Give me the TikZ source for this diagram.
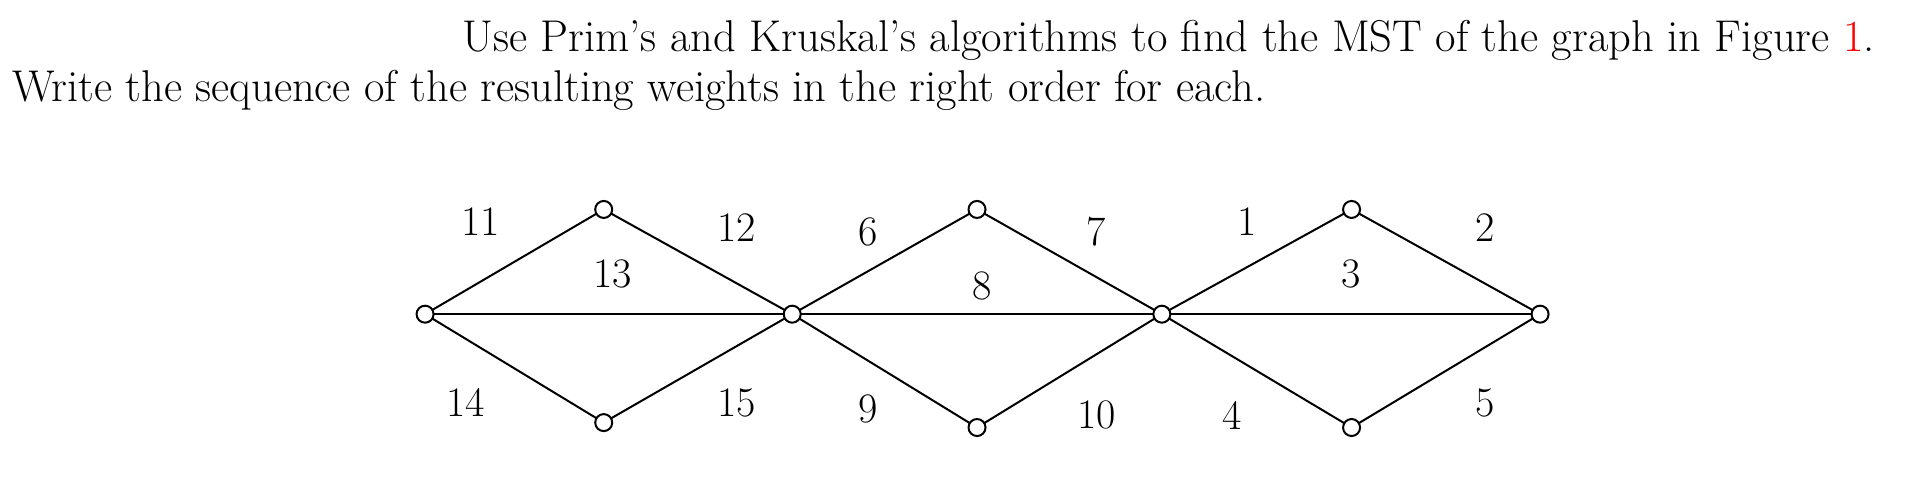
\documentclass[tikz,border=0pt]{standalone}
\usepackage{xcolor}
\begin{document}
\begin{tikzpicture}[x=1.232pt,y=-1.232pt,
  vtx/.style={circle,draw,line width=2pt,fill=white,inner sep=0pt,minimum size=17pt},
  edge/.style={line width=2pt},
  wt/.style={font=\fontsize{42}{46}\selectfont,inner sep=0pt},
  txt/.style={font=\fontsize{44.5}{48}\selectfont,inner sep=0pt,anchor=base west}]
\useasboundingbox (0,0) rectangle (1560,407);
\node[txt] (l1) at (375,42) {Use Prim's and Kruskal's algorithms to find the MST of the graph in Figure \textcolor{red}{1}.};
\node[txt] (l2) at (10,82) {Write the sequence of the resulting weights in the right order for each.};
\coordinate (L) at (345,255);
\coordinate (T1) at (490,170); \coordinate (B1) at (490,343);
\coordinate (C1) at (643,255);
\coordinate (T2) at (793,170); \coordinate (B2) at (793,347);
\coordinate (C2) at (943,255);
\coordinate (T3) at (1097,170); \coordinate (B3) at (1097,347);
\coordinate (R) at (1250,255);
\draw[edge] (L)--(T1)--(C1)--(T2)--(C2)--(T3)--(R);
\draw[edge] (L)--(B1)--(C1)--(B2)--(C2)--(B3)--(R);
\draw[edge] (L)--(C1)--(C2)--(R);
\foreach \n in {L,T1,B1,C1,T2,B2,C2,T3,B3,R} \node[vtx] (v\n) at (\n) {};
\node[wt] (w11) at (390,180) {11};
\node[wt] (w13) at (497,222) {13};
\node[wt] (w12) at (598,185) {12};
\node[wt] (w6) at (705,188) {6};
\node[wt] (w8) at (797,232) {8};
\node[wt] (w7) at (890,188) {7};
\node[wt] (w1) at (1012,180) {1};
\node[wt] (w3) at (1097,222) {3};
\node[wt] (w2) at (1205,185) {2};
\node[wt] (w14) at (378,327) {14};
\node[wt] (w15) at (598,327) {15};
\node[wt] (w9) at (705,332) {9};
\node[wt] (w10) at (890,337) {10};
\node[wt] (w4) at (1000,337) {4};
\node[wt] (w5) at (1205,327) {5};
\end{tikzpicture}
\end{document}
